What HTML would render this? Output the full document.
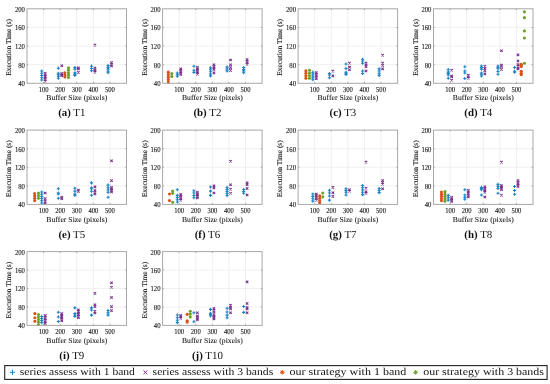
<!DOCTYPE html>
<html><head><meta charset="utf-8"><title>Execution time vs buffer size</title>
<style>
html,body{margin:0;padding:0;background:#fff;width:550px;height:384px;overflow:hidden}
svg{display:block;text-rendering:geometricPrecision}
text{font-family:"Liberation Serif","Times New Roman",serif;fill:#222}
.tl{font-size:7.6px;fill:#111;stroke:#111;stroke-width:0.1px}
.xl{font-size:7.6px;fill:#111;stroke:#111;stroke-width:0.08px}
.yl{font-size:7.4px;fill:#1a1a1a;stroke:#1a1a1a;stroke-width:0.12px}
.cap{font-size:10.9px;fill:#111}
.lg{font-size:10.6px;fill:#111}
.grid{stroke:#e6e6e6;stroke-width:0.6;fill:none}
.tick{stroke:#444;stroke-width:0.6;fill:none}
.box{fill:none;stroke:#a8a8a8;stroke-width:1.0}
.lbox{fill:none;stroke:#222;stroke-width:1.1}
.mb{stroke:#1782C4;stroke-width:1.05;fill:none}
.mp{stroke:#7E2F8E;stroke-width:1.05;fill:none}
.mo{fill:#DC5016}
.mg{fill:#6AA226}
</style></head>
<body>
<svg width="550" height="384" viewBox="0 0 550 384">
<path d="M43.58 8.8V83.3M60.17 8.8V83.3M76.75 8.8V83.3M93.33 8.8V83.3M109.92 8.8V83.3M27 64.67H126.5M27 46.05H126.5M27 27.43H126.5" class="grid"/>
<path d="M43.58 8.8v1.1M43.58 83.3v-1.1M60.17 8.8v1.1M60.17 83.3v-1.1M76.75 8.8v1.1M76.75 83.3v-1.1M93.33 8.8v1.1M93.33 83.3v-1.1M109.92 8.8v1.1M109.92 83.3v-1.1M27 64.67h1.1M126.5 64.67h-1.1M27 46.05h1.1M126.5 46.05h-1.1M27 27.43h1.1M126.5 27.43h-1.1" class="tick"/>
<path d="M40.18 80.04H43.28M41.73 78.49V81.59" class="mb"/>
<path d="M40.18 77.77H43.28M41.73 76.22V79.32" class="mb"/>
<path d="M40.18 75.5H43.28M41.73 73.95V77.05" class="mb"/>
<path d="M40.18 73.23H43.28M41.73 71.68V74.78" class="mb"/>
<path d="M40.18 70.96H43.28M41.73 69.41V72.51" class="mb"/>
<path d="M43.98 80L46.38 82.4M43.98 82.4L46.38 80" class="mp"/>
<path d="M43.98 78.42L46.38 80.82M43.98 80.82L46.38 78.42" class="mp"/>
<path d="M43.98 76.84L46.38 79.24M43.98 79.24L46.38 76.84" class="mp"/>
<path d="M43.98 75.26L46.38 77.66M43.98 77.66L46.38 75.26" class="mp"/>
<path d="M43.98 73.67L46.38 76.07M43.98 76.07L46.38 73.67" class="mp"/>
<path d="M43.98 72.09L46.38 74.49M43.98 74.49L46.38 72.09" class="mp"/>
<path d="M56.77 78.18H59.87M58.32 76.63V79.73" class="mb"/>
<path d="M56.77 76.32H59.87M58.32 74.77V77.87" class="mb"/>
<path d="M56.77 74.78H59.87M58.32 73.23V76.33" class="mb"/>
<path d="M56.77 73.2H59.87M58.32 71.65V74.75" class="mb"/>
<path d="M56.77 68.17H59.87M58.32 66.62V69.72" class="mb"/>
<path d="M60.57 74.51L62.97 76.91M60.57 76.91L62.97 74.51" class="mp"/>
<path d="M60.57 73.58L62.97 75.98M60.57 75.98L62.97 73.58" class="mp"/>
<path d="M60.57 72.32L62.97 74.72M60.57 74.72L62.97 72.32" class="mp"/>
<path d="M60.57 64.5L62.97 66.9M60.57 66.9L62.97 64.5" class="mp"/>
<circle cx="64.87" cy="77.01" r="1.55" class="mo"/>
<circle cx="64.87" cy="74.94" r="1.55" class="mo"/>
<circle cx="64.87" cy="72.87" r="1.55" class="mo"/>
<circle cx="68.47" cy="77.57" r="1.55" class="mg"/>
<circle cx="68.47" cy="75.15" r="1.55" class="mg"/>
<circle cx="68.47" cy="72.73" r="1.55" class="mg"/>
<circle cx="68.47" cy="70.31" r="1.55" class="mg"/>
<circle cx="68.47" cy="67.89" r="1.55" class="mg"/>
<path d="M73.35 75.38H76.45M74.9 73.83V76.93" class="mb"/>
<path d="M73.35 74.17H76.45M74.9 72.62V75.72" class="mb"/>
<path d="M73.35 72.87H76.45M74.9 71.32V74.42" class="mb"/>
<path d="M73.35 69.1H76.45M74.9 67.55V70.65" class="mb"/>
<path d="M73.35 67.56H76.45M74.9 66.01V69.11" class="mb"/>
<path d="M77.15 71.11L79.55 73.51M77.15 73.51L79.55 71.11" class="mp"/>
<path d="M77.15 67.67L79.55 70.07M77.15 70.07L79.55 67.67" class="mp"/>
<path d="M77.15 66.69L79.55 69.09M77.15 69.09L79.55 66.69" class="mp"/>
<path d="M89.93 70.77H93.03M91.48 69.22V72.32" class="mb"/>
<path d="M89.93 68.47H93.03M91.48 66.92V70.02" class="mb"/>
<path d="M89.93 66.17H93.03M91.48 64.62V67.72" class="mb"/>
<path d="M93.73 70.92L96.13 73.33M93.73 73.33L96.13 70.92" class="mp"/>
<path d="M93.73 69.61L96.13 72.01M93.73 72.01L96.13 69.61" class="mp"/>
<path d="M93.73 68.29L96.13 70.69M93.73 70.69L96.13 68.29" class="mp"/>
<path d="M93.73 66.97L96.13 69.37M93.73 69.37L96.13 66.97" class="mp"/>
<path d="M93.73 43.92L96.13 46.32M93.73 46.32L96.13 43.92" class="mp"/>
<path d="M106.52 72.78H109.62M108.07 71.23V74.33" class="mb"/>
<path d="M106.52 71.19H109.62M108.07 69.64V72.74" class="mb"/>
<path d="M106.52 69.1H109.62M108.07 67.55V70.65" class="mb"/>
<path d="M106.52 67.47H109.62M108.07 65.92V69.02" class="mb"/>
<path d="M106.52 65.61H109.62M108.07 64.06V67.16" class="mb"/>
<path d="M110.32 64.69L112.72 67.09M110.32 67.09L112.72 64.69" class="mp"/>
<path d="M110.32 63.03L112.72 65.43M110.32 65.43L112.72 63.03" class="mp"/>
<path d="M110.32 61.38L112.72 63.78M110.32 63.78L112.72 61.38" class="mp"/>
<rect x="27" y="8.8" width="99.5" height="74.5" class="box"/>
<text x="24.9" y="86.2" class="tl" text-anchor="end" textLength="6.7" lengthAdjust="spacingAndGlyphs">40</text>
<text x="24.9" y="67.58" class="tl" text-anchor="end" textLength="6.7" lengthAdjust="spacingAndGlyphs">80</text>
<text x="24.9" y="48.95" class="tl" text-anchor="end" textLength="10" lengthAdjust="spacingAndGlyphs">120</text>
<text x="24.9" y="30.32" class="tl" text-anchor="end" textLength="10" lengthAdjust="spacingAndGlyphs">160</text>
<text x="24.9" y="11.7" class="tl" text-anchor="end" textLength="10" lengthAdjust="spacingAndGlyphs">200</text>
<text x="43.58" y="91.5" class="tl" text-anchor="middle" textLength="9.9" lengthAdjust="spacingAndGlyphs">100</text>
<text x="60.17" y="91.5" class="tl" text-anchor="middle" textLength="9.9" lengthAdjust="spacingAndGlyphs">200</text>
<text x="76.75" y="91.5" class="tl" text-anchor="middle" textLength="9.9" lengthAdjust="spacingAndGlyphs">300</text>
<text x="93.33" y="91.5" class="tl" text-anchor="middle" textLength="9.9" lengthAdjust="spacingAndGlyphs">400</text>
<text x="109.92" y="91.5" class="tl" text-anchor="middle" textLength="9.9" lengthAdjust="spacingAndGlyphs">500</text>
<text x="76.8" y="100.3" class="xl" text-anchor="middle" textLength="60.9" lengthAdjust="spacing">Buffer Size (pixels)</text>
<text transform="translate(8.9 47.4) rotate(-90)" x="0" y="2.4" class="yl" text-anchor="middle" textLength="56.8" lengthAdjust="spacingAndGlyphs">Execution Time (s)</text>
<text x="71.8" y="116.3" class="cap" text-anchor="middle"><tspan font-weight="bold">(a)</tspan> T1</text>
<path d="M179.18 8.8V83.3M195.77 8.8V83.3M212.35 8.8V83.3M228.93 8.8V83.3M245.52 8.8V83.3M162.6 64.67H262.1M162.6 46.05H262.1M162.6 27.43H262.1" class="grid"/>
<path d="M179.18 8.8v1.1M179.18 83.3v-1.1M195.77 8.8v1.1M195.77 83.3v-1.1M212.35 8.8v1.1M212.35 83.3v-1.1M228.93 8.8v1.1M228.93 83.3v-1.1M245.52 8.8v1.1M245.52 83.3v-1.1M162.6 64.67h1.1M262.1 64.67h-1.1M162.6 46.05h1.1M262.1 46.05h-1.1M162.6 27.43h1.1M262.1 27.43h-1.1" class="tick"/>
<circle cx="168.28" cy="82.09" r="1.55" class="mo"/>
<circle cx="168.28" cy="79.61" r="1.55" class="mo"/>
<circle cx="168.28" cy="77.13" r="1.55" class="mo"/>
<circle cx="168.28" cy="74.65" r="1.55" class="mo"/>
<circle cx="168.28" cy="72.17" r="1.55" class="mo"/>
<circle cx="171.78" cy="76.41" r="1.55" class="mg"/>
<circle cx="171.78" cy="73.57" r="1.55" class="mg"/>
<path d="M175.78 76.32H178.88M177.33 74.77V77.87" class="mb"/>
<path d="M175.78 74.69H178.88M177.33 73.14V76.24" class="mb"/>
<path d="M175.78 73.06H178.88M177.33 71.51V74.61" class="mb"/>
<path d="M179.58 73.25L181.98 75.65M179.58 75.65L181.98 73.25" class="mp"/>
<path d="M179.58 71.86L181.98 74.26M179.58 74.26L181.98 71.86" class="mp"/>
<path d="M179.58 70.46L181.98 72.86M179.58 72.86L181.98 70.46" class="mp"/>
<path d="M179.58 69.06L181.98 71.46M179.58 71.46L181.98 69.06" class="mp"/>
<path d="M179.58 67.67L181.98 70.07M179.58 70.07L181.98 67.67" class="mp"/>
<path d="M192.37 72.36H195.47M193.92 70.81V73.91" class="mb"/>
<path d="M192.37 70.26H195.47M193.92 68.71V71.81" class="mb"/>
<path d="M192.37 66.26H195.47M193.92 64.71V67.81" class="mb"/>
<path d="M196.17 72.88L198.57 75.28M196.17 75.28L198.57 72.88" class="mp"/>
<path d="M196.17 71.54L198.57 73.94M196.17 73.94L198.57 71.54" class="mp"/>
<path d="M196.17 70.2L198.57 72.6M196.17 72.6L198.57 70.2" class="mp"/>
<path d="M196.17 68.86L198.57 71.26M196.17 71.26L198.57 68.86" class="mp"/>
<path d="M196.17 67.52L198.57 69.92M196.17 69.92L198.57 67.52" class="mp"/>
<path d="M196.17 66.18L198.57 68.58M196.17 68.58L198.57 66.18" class="mp"/>
<path d="M208.95 75.85H212.05M210.5 74.3V77.4" class="mb"/>
<path d="M208.95 73.99H212.05M210.5 72.44V75.54" class="mb"/>
<path d="M208.95 71.66H212.05M210.5 70.11V73.21" class="mb"/>
<path d="M208.95 69.8H212.05M210.5 68.25V71.35" class="mb"/>
<path d="M208.95 67.89H212.05M210.5 66.34V69.44" class="mb"/>
<path d="M212.75 71.62L215.15 74.02M212.75 74.02L215.15 71.62" class="mp"/>
<path d="M212.75 68.27L215.15 70.67M212.75 70.67L215.15 68.27" class="mp"/>
<path d="M212.75 66.7L215.15 69.1M212.75 69.1L215.15 66.7" class="mp"/>
<path d="M212.75 65.14L215.15 67.54M212.75 67.54L215.15 65.14" class="mp"/>
<path d="M212.75 63.57L215.15 65.97M212.75 65.97L215.15 63.57" class="mp"/>
<path d="M225.53 70.87H228.63M227.08 69.32V72.42" class="mb"/>
<path d="M225.53 68.98H228.63M227.08 67.43V70.53" class="mb"/>
<path d="M225.53 67.1H228.63M227.08 65.55V68.65" class="mb"/>
<path d="M229.33 69.2L231.73 71.6M229.33 71.6L231.73 69.2" class="mp"/>
<path d="M229.33 66.36L231.73 68.76M229.33 68.76L231.73 66.36" class="mp"/>
<path d="M229.33 63.57L231.73 65.97M229.33 65.97L231.73 63.57" class="mp"/>
<path d="M229.33 58.82L231.73 61.22M229.33 61.22L231.73 58.82" class="mp"/>
<path d="M242.12 72.82H245.22M243.67 71.27V74.37" class="mb"/>
<path d="M242.12 70.87H245.22M243.67 69.32V72.42" class="mb"/>
<path d="M242.12 69.47H245.22M243.67 67.92V71.02" class="mb"/>
<path d="M242.12 67.56H245.22M243.67 66.01V69.11" class="mb"/>
<path d="M245.92 63.06L248.32 65.46M245.92 65.46L248.32 63.06" class="mp"/>
<path d="M245.92 61.49L248.32 63.89M245.92 63.89L248.32 61.49" class="mp"/>
<path d="M245.92 59.92L248.32 62.32M245.92 62.32L248.32 59.92" class="mp"/>
<path d="M245.92 58.35L248.32 60.75M245.92 60.75L248.32 58.35" class="mp"/>
<rect x="162.6" y="8.8" width="99.5" height="74.5" class="box"/>
<text x="160.5" y="86.2" class="tl" text-anchor="end" textLength="6.7" lengthAdjust="spacingAndGlyphs">40</text>
<text x="160.5" y="67.58" class="tl" text-anchor="end" textLength="6.7" lengthAdjust="spacingAndGlyphs">80</text>
<text x="160.5" y="48.95" class="tl" text-anchor="end" textLength="10" lengthAdjust="spacingAndGlyphs">120</text>
<text x="160.5" y="30.32" class="tl" text-anchor="end" textLength="10" lengthAdjust="spacingAndGlyphs">160</text>
<text x="160.5" y="11.7" class="tl" text-anchor="end" textLength="10" lengthAdjust="spacingAndGlyphs">200</text>
<text x="179.18" y="91.5" class="tl" text-anchor="middle" textLength="9.9" lengthAdjust="spacingAndGlyphs">100</text>
<text x="195.77" y="91.5" class="tl" text-anchor="middle" textLength="9.9" lengthAdjust="spacingAndGlyphs">200</text>
<text x="212.35" y="91.5" class="tl" text-anchor="middle" textLength="9.9" lengthAdjust="spacingAndGlyphs">300</text>
<text x="228.93" y="91.5" class="tl" text-anchor="middle" textLength="9.9" lengthAdjust="spacingAndGlyphs">400</text>
<text x="245.52" y="91.5" class="tl" text-anchor="middle" textLength="9.9" lengthAdjust="spacingAndGlyphs">500</text>
<text x="212.4" y="100.3" class="xl" text-anchor="middle" textLength="60.9" lengthAdjust="spacing">Buffer Size (pixels)</text>
<text transform="translate(144.5 47.4) rotate(-90)" x="0" y="2.4" class="yl" text-anchor="middle" textLength="56.8" lengthAdjust="spacingAndGlyphs">Execution Time (s)</text>
<text x="207.4" y="116.3" class="cap" text-anchor="middle"><tspan font-weight="bold">(b)</tspan> T2</text>
<path d="M314.68 8.8V83.3M331.27 8.8V83.3M347.85 8.8V83.3M364.43 8.8V83.3M381.02 8.8V83.3M298.1 64.67H397.6M298.1 46.05H397.6M298.1 27.43H397.6" class="grid"/>
<path d="M314.68 8.8v1.1M314.68 83.3v-1.1M331.27 8.8v1.1M331.27 83.3v-1.1M347.85 8.8v1.1M347.85 83.3v-1.1M364.43 8.8v1.1M364.43 83.3v-1.1M381.02 8.8v1.1M381.02 83.3v-1.1M298.1 64.67h1.1M397.6 64.67h-1.1M298.1 46.05h1.1M397.6 46.05h-1.1M298.1 27.43h1.1M397.6 27.43h-1.1" class="tick"/>
<circle cx="305.88" cy="78.27" r="1.55" class="mo"/>
<circle cx="305.88" cy="75.76" r="1.55" class="mo"/>
<circle cx="305.88" cy="73.24" r="1.55" class="mo"/>
<circle cx="305.88" cy="70.73" r="1.55" class="mo"/>
<circle cx="309.48" cy="78.27" r="1.55" class="mg"/>
<circle cx="309.48" cy="75.6" r="1.55" class="mg"/>
<circle cx="309.48" cy="72.93" r="1.55" class="mg"/>
<circle cx="309.48" cy="70.26" r="1.55" class="mg"/>
<path d="M311.28 79.71H314.38M312.83 78.16V81.26" class="mb"/>
<path d="M311.28 77.83H314.38M312.83 76.28V79.38" class="mb"/>
<path d="M311.28 75.94H314.38M312.83 74.39V77.49" class="mb"/>
<path d="M311.28 74.06H314.38M312.83 72.51V75.61" class="mb"/>
<path d="M311.28 72.17H314.38M312.83 70.62V73.72" class="mb"/>
<path d="M315.08 77.58L317.48 79.98M315.08 79.98L317.48 77.58" class="mp"/>
<path d="M315.08 76.04L317.48 78.44M315.08 78.44L317.48 76.04" class="mp"/>
<path d="M315.08 74.49L317.48 76.89M315.08 76.89L317.48 74.49" class="mp"/>
<path d="M315.08 72.94L317.48 75.34M315.08 75.34L317.48 72.94" class="mp"/>
<path d="M315.08 71.39L317.48 73.79M315.08 73.79L317.48 71.39" class="mp"/>
<path d="M327.87 77.71H330.97M329.42 76.16V79.26" class="mb"/>
<path d="M327.87 74.92H330.97M329.42 73.37V76.47" class="mb"/>
<path d="M327.87 73.57H330.97M329.42 72.02V75.12" class="mb"/>
<path d="M331.67 74.7L334.07 77.1M331.67 77.1L334.07 74.7" class="mp"/>
<path d="M331.67 69.99L334.07 72.39M331.67 72.39L334.07 69.99" class="mp"/>
<path d="M344.45 74.45H347.55M346 72.9V76" class="mb"/>
<path d="M344.45 73.29H347.55M346 71.74V74.84" class="mb"/>
<path d="M344.45 72.17H347.55M346 70.62V73.72" class="mb"/>
<path d="M344.45 68.4H347.55M346 66.85V69.95" class="mb"/>
<path d="M344.45 64.07H347.55M346 62.52V65.62" class="mb"/>
<path d="M348.25 68.6L350.65 71M348.25 71L350.65 68.6" class="mp"/>
<path d="M348.25 65.8L350.65 68.2M348.25 68.2L350.65 65.8" class="mp"/>
<path d="M348.25 61.94L350.65 64.34M348.25 64.34L350.65 61.94" class="mp"/>
<path d="M361.03 73.52H364.13M362.58 71.97V75.07" class="mb"/>
<path d="M361.03 71.01H364.13M362.58 69.46V72.56" class="mb"/>
<path d="M361.03 63.19H364.13M362.58 61.64V64.73" class="mb"/>
<path d="M361.03 60.95H364.13M362.58 59.4V62.5" class="mb"/>
<path d="M361.03 59.27H364.13M362.58 57.72V60.82" class="mb"/>
<path d="M364.83 69.81L367.23 72.21M364.83 72.21L367.23 69.81" class="mp"/>
<path d="M364.83 65.48L367.23 67.88M364.83 67.88L367.23 65.48" class="mp"/>
<path d="M364.83 63.73L367.23 66.13M364.83 66.13L367.23 63.73" class="mp"/>
<path d="M364.83 61.98L367.23 64.39M364.83 64.39L367.23 61.98" class="mp"/>
<path d="M377.62 75.38H380.72M379.17 73.83V76.93" class="mb"/>
<path d="M377.62 73.21H380.72M379.17 71.66V74.76" class="mb"/>
<path d="M377.62 71.04H380.72M379.17 69.49V72.59" class="mb"/>
<path d="M377.62 68.87H380.72M379.17 67.32V70.42" class="mb"/>
<path d="M381.42 67.67L383.82 70.07M381.42 70.07L383.82 67.67" class="mp"/>
<path d="M381.42 64.17L383.82 66.57M381.42 66.57L383.82 64.17" class="mp"/>
<path d="M381.42 61.98L383.82 64.39M381.42 64.39L383.82 61.98" class="mp"/>
<path d="M381.42 54.07L383.82 56.47M381.42 56.47L383.82 54.07" class="mp"/>
<rect x="298.1" y="8.8" width="99.5" height="74.5" class="box"/>
<text x="296" y="86.2" class="tl" text-anchor="end" textLength="6.7" lengthAdjust="spacingAndGlyphs">40</text>
<text x="296" y="67.58" class="tl" text-anchor="end" textLength="6.7" lengthAdjust="spacingAndGlyphs">80</text>
<text x="296" y="48.95" class="tl" text-anchor="end" textLength="10" lengthAdjust="spacingAndGlyphs">120</text>
<text x="296" y="30.32" class="tl" text-anchor="end" textLength="10" lengthAdjust="spacingAndGlyphs">160</text>
<text x="296" y="11.7" class="tl" text-anchor="end" textLength="10" lengthAdjust="spacingAndGlyphs">200</text>
<text x="314.68" y="91.5" class="tl" text-anchor="middle" textLength="9.9" lengthAdjust="spacingAndGlyphs">100</text>
<text x="331.27" y="91.5" class="tl" text-anchor="middle" textLength="9.9" lengthAdjust="spacingAndGlyphs">200</text>
<text x="347.85" y="91.5" class="tl" text-anchor="middle" textLength="9.9" lengthAdjust="spacingAndGlyphs">300</text>
<text x="364.43" y="91.5" class="tl" text-anchor="middle" textLength="9.9" lengthAdjust="spacingAndGlyphs">400</text>
<text x="381.02" y="91.5" class="tl" text-anchor="middle" textLength="9.9" lengthAdjust="spacingAndGlyphs">500</text>
<text x="347.9" y="100.3" class="xl" text-anchor="middle" textLength="60.9" lengthAdjust="spacing">Buffer Size (pixels)</text>
<text transform="translate(280 47.4) rotate(-90)" x="0" y="2.4" class="yl" text-anchor="middle" textLength="56.8" lengthAdjust="spacingAndGlyphs">Execution Time (s)</text>
<text x="342.9" y="116.3" class="cap" text-anchor="middle"><tspan font-weight="bold">(c)</tspan> T3</text>
<path d="M450.08 8.8V83.3M466.67 8.8V83.3M483.25 8.8V83.3M499.83 8.8V83.3M516.42 8.8V83.3M433.5 64.67H533M433.5 46.05H533M433.5 27.43H533" class="grid"/>
<path d="M450.08 8.8v1.1M450.08 83.3v-1.1M466.67 8.8v1.1M466.67 83.3v-1.1M483.25 8.8v1.1M483.25 83.3v-1.1M499.83 8.8v1.1M499.83 83.3v-1.1M516.42 8.8v1.1M516.42 83.3v-1.1M433.5 64.67h1.1M533 64.67h-1.1M433.5 46.05h1.1M533 46.05h-1.1M433.5 27.43h1.1M533 27.43h-1.1" class="tick"/>
<path d="M446.68 78.27H449.78M448.23 76.72V79.82" class="mb"/>
<path d="M446.68 75.01H449.78M448.23 73.46V76.56" class="mb"/>
<path d="M446.68 73.48H449.78M448.23 71.93V75.03" class="mb"/>
<path d="M446.68 72.12H449.78M448.23 70.58V73.67" class="mb"/>
<path d="M446.68 69.66H449.78M448.23 68.11V71.21" class="mb"/>
<path d="M450.48 78.98L452.88 81.38M450.48 81.38L452.88 78.98" class="mp"/>
<path d="M450.48 75.58L452.88 77.98M450.48 77.98L452.88 75.58" class="mp"/>
<path d="M450.48 74.79L452.88 77.19M450.48 77.19L452.88 74.79" class="mp"/>
<path d="M450.48 69.06L452.88 71.46M450.48 71.46L452.88 69.06" class="mp"/>
<path d="M463.27 78.5H466.37M464.82 76.95V80.05" class="mb"/>
<path d="M463.27 73.06H466.37M464.82 71.51V74.61" class="mb"/>
<path d="M463.27 71.01H466.37M464.82 69.46V72.56" class="mb"/>
<path d="M463.27 66.77H466.37M464.82 65.22V68.32" class="mb"/>
<path d="M467.07 76.88L469.47 79.28M467.07 79.28L469.47 76.88" class="mp"/>
<path d="M467.07 75.58L469.47 77.98M467.07 77.98L469.47 75.58" class="mp"/>
<path d="M467.07 73.91L469.47 76.31M467.07 76.31L469.47 73.91" class="mp"/>
<path d="M479.85 75.99H482.95M481.4 74.44V77.54" class="mb"/>
<path d="M479.85 74.27H482.95M481.4 72.72V75.82" class="mb"/>
<path d="M479.85 73.06H482.95M481.4 71.51V74.61" class="mb"/>
<path d="M479.85 69.1H482.95M481.4 67.55V70.65" class="mb"/>
<path d="M479.85 67.56H482.95M481.4 66.01V69.11" class="mb"/>
<path d="M479.85 65.98H482.95M481.4 64.43V67.53" class="mb"/>
<path d="M483.65 72.69L486.05 75.09M483.65 75.09L486.05 72.69" class="mp"/>
<path d="M483.65 69.39L486.05 71.79M483.65 71.79L486.05 69.39" class="mp"/>
<path d="M483.65 67.29L486.05 69.69M483.65 69.69L486.05 67.29" class="mp"/>
<path d="M483.65 65.2L486.05 67.6M483.65 67.6L486.05 65.2" class="mp"/>
<path d="M496.43 74.27H499.53M497.98 72.72V75.82" class="mb"/>
<path d="M496.43 71.47H499.53M497.98 69.92V73.02" class="mb"/>
<path d="M496.43 68.68H499.53M497.98 67.13V70.23" class="mb"/>
<path d="M496.43 67.47H499.53M497.98 65.92V69.02" class="mb"/>
<path d="M496.43 66.07H499.53M497.98 64.52V67.62" class="mb"/>
<path d="M500.23 68.13L502.63 70.53M500.23 70.53L502.63 68.13" class="mp"/>
<path d="M500.23 65.34L502.63 67.74M500.23 67.74L502.63 65.34" class="mp"/>
<path d="M500.23 63.94L502.63 66.34M500.23 66.34L502.63 63.94" class="mp"/>
<path d="M500.23 49.51L502.63 51.91M500.23 51.91L502.63 49.51" class="mp"/>
<path d="M513.02 72.17H516.12M514.57 70.62V73.72" class="mb"/>
<path d="M513.02 71.29H516.12M514.57 69.74V72.84" class="mb"/>
<path d="M513.02 67.56H516.12M514.57 66.01V69.11" class="mb"/>
<path d="M516.82 67.76L519.22 70.16M516.82 70.16L519.22 67.76" class="mp"/>
<path d="M516.82 66.78L519.22 69.18M516.82 69.18L519.22 66.78" class="mp"/>
<path d="M516.82 64.87L519.22 67.27M516.82 67.27L519.22 64.87" class="mp"/>
<path d="M516.82 63.47L519.22 65.88M516.82 65.88L519.22 63.47" class="mp"/>
<path d="M516.82 59.75L519.22 62.15M516.82 62.15L519.22 59.75" class="mp"/>
<path d="M516.82 53.7L519.22 56.1M516.82 56.1L519.22 53.7" class="mp"/>
<circle cx="521.22" cy="74.59" r="1.55" class="mo"/>
<circle cx="521.22" cy="73.2" r="1.55" class="mo"/>
<circle cx="521.22" cy="71.29" r="1.55" class="mo"/>
<circle cx="521.22" cy="66.54" r="1.55" class="mo"/>
<circle cx="521.22" cy="65.37" r="1.55" class="mo"/>
<circle cx="521.22" cy="64.21" r="1.55" class="mo"/>
<circle cx="524.42" cy="63.28" r="1.55" class="mg"/>
<circle cx="524.42" cy="37.95" r="1.55" class="mg"/>
<circle cx="524.42" cy="30.92" r="1.55" class="mg"/>
<circle cx="524.42" cy="17.65" r="1.55" class="mg"/>
<circle cx="524.42" cy="11.83" r="1.55" class="mg"/>
<rect x="433.5" y="8.8" width="99.5" height="74.5" class="box"/>
<text x="431.4" y="86.2" class="tl" text-anchor="end" textLength="6.7" lengthAdjust="spacingAndGlyphs">40</text>
<text x="431.4" y="67.58" class="tl" text-anchor="end" textLength="6.7" lengthAdjust="spacingAndGlyphs">80</text>
<text x="431.4" y="48.95" class="tl" text-anchor="end" textLength="10" lengthAdjust="spacingAndGlyphs">120</text>
<text x="431.4" y="30.32" class="tl" text-anchor="end" textLength="10" lengthAdjust="spacingAndGlyphs">160</text>
<text x="431.4" y="11.7" class="tl" text-anchor="end" textLength="10" lengthAdjust="spacingAndGlyphs">200</text>
<text x="450.08" y="91.5" class="tl" text-anchor="middle" textLength="9.9" lengthAdjust="spacingAndGlyphs">100</text>
<text x="466.67" y="91.5" class="tl" text-anchor="middle" textLength="9.9" lengthAdjust="spacingAndGlyphs">200</text>
<text x="483.25" y="91.5" class="tl" text-anchor="middle" textLength="9.9" lengthAdjust="spacingAndGlyphs">300</text>
<text x="499.83" y="91.5" class="tl" text-anchor="middle" textLength="9.9" lengthAdjust="spacingAndGlyphs">400</text>
<text x="516.42" y="91.5" class="tl" text-anchor="middle" textLength="9.9" lengthAdjust="spacingAndGlyphs">500</text>
<text x="483.3" y="100.3" class="xl" text-anchor="middle" textLength="60.9" lengthAdjust="spacing">Buffer Size (pixels)</text>
<text transform="translate(415.4 47.4) rotate(-90)" x="0" y="2.4" class="yl" text-anchor="middle" textLength="56.8" lengthAdjust="spacingAndGlyphs">Execution Time (s)</text>
<text x="478.3" y="116.3" class="cap" text-anchor="middle"><tspan font-weight="bold">(d)</tspan> T4</text>
<path d="M43.58 130.1V204.4M60.17 130.1V204.4M76.75 130.1V204.4M93.33 130.1V204.4M109.92 130.1V204.4M27 185.82H126.5M27 167.25H126.5M27 148.67H126.5" class="grid"/>
<path d="M43.58 130.1v1.1M43.58 204.4v-1.1M60.17 130.1v1.1M60.17 204.4v-1.1M76.75 130.1v1.1M76.75 204.4v-1.1M93.33 130.1v1.1M93.33 204.4v-1.1M109.92 130.1v1.1M109.92 204.4v-1.1M27 185.82h1.1M126.5 185.82h-1.1M27 167.25h1.1M126.5 167.25h-1.1M27 148.67h1.1M126.5 148.67h-1.1" class="tick"/>
<circle cx="34.68" cy="200.59" r="1.55" class="mo"/>
<circle cx="34.68" cy="198.24" r="1.55" class="mo"/>
<circle cx="34.68" cy="195.89" r="1.55" class="mo"/>
<circle cx="34.68" cy="193.53" r="1.55" class="mo"/>
<circle cx="38.48" cy="198.22" r="1.55" class="mg"/>
<circle cx="38.48" cy="195.62" r="1.55" class="mg"/>
<circle cx="38.48" cy="193.02" r="1.55" class="mg"/>
<path d="M40.18 202.91H43.28M41.73 201.36V204.46" class="mb"/>
<path d="M40.18 200.75H43.28M41.73 199.2V202.3" class="mb"/>
<path d="M40.18 198.59H43.28M41.73 197.04V200.14" class="mb"/>
<path d="M40.18 196.42H43.28M41.73 194.87V197.97" class="mb"/>
<path d="M40.18 194.26H43.28M41.73 192.71V195.81" class="mb"/>
<path d="M40.18 192.09H43.28M41.73 190.54V193.64" class="mb"/>
<path d="M43.98 201.71L46.38 204.11M43.98 204.11L46.38 201.71" class="mp"/>
<path d="M43.98 199.95L46.38 202.35M43.98 202.35L46.38 199.95" class="mp"/>
<path d="M43.98 197.49L46.38 199.89M43.98 199.89L46.38 197.49" class="mp"/>
<path d="M43.98 191.82L46.38 194.22M43.98 194.22L46.38 191.82" class="mp"/>
<path d="M56.77 198.22H59.87M58.32 196.67V199.77" class="mb"/>
<path d="M56.77 194H59.87M58.32 192.45V195.55" class="mb"/>
<path d="M56.77 193.02H59.87M58.32 191.47V194.57" class="mb"/>
<path d="M56.77 188.8H59.87M58.32 187.25V190.35" class="mb"/>
<path d="M60.57 197.49L62.97 199.89M60.57 199.89L62.97 197.49" class="mp"/>
<path d="M60.57 196.23L62.97 198.63M60.57 198.63L62.97 196.23" class="mp"/>
<path d="M73.35 195.39H76.45M74.9 193.84V196.94" class="mb"/>
<path d="M73.35 194H76.45M74.9 192.45V195.55" class="mb"/>
<path d="M73.35 191.12H76.45M74.9 189.57V192.67" class="mb"/>
<path d="M73.35 188.29H76.45M74.9 186.74V189.84" class="mb"/>
<path d="M77.15 190.2L79.55 192.6M77.15 192.6L79.55 190.2" class="mp"/>
<path d="M77.15 188.85L79.55 191.25M77.15 191.25L79.55 188.85" class="mp"/>
<path d="M89.93 195.3H93.03M91.48 193.75V196.85" class="mb"/>
<path d="M89.93 191.21H93.03M91.48 189.66V192.76" class="mb"/>
<path d="M89.93 188.8H93.03M91.48 187.25V190.35" class="mb"/>
<path d="M89.93 187.82H93.03M91.48 186.27V189.37" class="mb"/>
<path d="M89.93 182.85H93.03M91.48 181.3V184.4" class="mb"/>
<path d="M93.73 192.71L96.13 195.11M93.73 195.11L96.13 192.71" class="mp"/>
<path d="M93.73 191.01L96.13 193.41M93.73 193.41L96.13 191.01" class="mp"/>
<path d="M93.73 189.32L96.13 191.72M93.73 191.72L96.13 189.32" class="mp"/>
<path d="M93.73 185.74L96.13 188.14M93.73 188.14L96.13 185.74" class="mp"/>
<path d="M106.52 197.3H109.62M108.07 195.75V198.85" class="mb"/>
<path d="M106.52 192.33H109.62M108.07 190.78V193.88" class="mb"/>
<path d="M106.52 189.91H109.62M108.07 188.36V191.46" class="mb"/>
<path d="M106.52 187.82H109.62M108.07 186.27V189.37" class="mb"/>
<path d="M106.52 185.13H109.62M108.07 183.58V186.68" class="mb"/>
<path d="M110.32 190.71L112.72 193.11M110.32 193.11L112.72 190.71" class="mp"/>
<path d="M110.32 189.21L112.72 191.61M110.32 191.61L112.72 189.21" class="mp"/>
<path d="M110.32 187.71L112.72 190.11M110.32 190.11L112.72 187.71" class="mp"/>
<path d="M110.32 186.2L112.72 188.6M110.32 188.6L112.72 186.2" class="mp"/>
<path d="M110.32 179.42L112.72 181.82M110.32 181.82L112.72 179.42" class="mp"/>
<path d="M110.32 159.55L112.72 161.95M110.32 161.95L112.72 159.55" class="mp"/>
<rect x="27" y="130.1" width="99.5" height="74.3" class="box"/>
<text x="24.9" y="207.3" class="tl" text-anchor="end" textLength="6.7" lengthAdjust="spacingAndGlyphs">40</text>
<text x="24.9" y="188.72" class="tl" text-anchor="end" textLength="6.7" lengthAdjust="spacingAndGlyphs">80</text>
<text x="24.9" y="170.15" class="tl" text-anchor="end" textLength="10" lengthAdjust="spacingAndGlyphs">120</text>
<text x="24.9" y="151.57" class="tl" text-anchor="end" textLength="10" lengthAdjust="spacingAndGlyphs">160</text>
<text x="24.9" y="133" class="tl" text-anchor="end" textLength="10" lengthAdjust="spacingAndGlyphs">200</text>
<text x="43.58" y="212.8" class="tl" text-anchor="middle" textLength="9.9" lengthAdjust="spacingAndGlyphs">100</text>
<text x="60.17" y="212.8" class="tl" text-anchor="middle" textLength="9.9" lengthAdjust="spacingAndGlyphs">200</text>
<text x="76.75" y="212.8" class="tl" text-anchor="middle" textLength="9.9" lengthAdjust="spacingAndGlyphs">300</text>
<text x="93.33" y="212.8" class="tl" text-anchor="middle" textLength="9.9" lengthAdjust="spacingAndGlyphs">400</text>
<text x="109.92" y="212.8" class="tl" text-anchor="middle" textLength="9.9" lengthAdjust="spacingAndGlyphs">500</text>
<text x="76.8" y="221.6" class="xl" text-anchor="middle" textLength="60.9" lengthAdjust="spacing">Buffer Size (pixels)</text>
<text transform="translate(8.9 168.7) rotate(-90)" x="0" y="2.4" class="yl" text-anchor="middle" textLength="56.8" lengthAdjust="spacingAndGlyphs">Execution Time (s)</text>
<text x="71.8" y="237.6" class="cap" text-anchor="middle"><tspan font-weight="bold">(e)</tspan> T5</text>
<path d="M179.18 130.1V204.4M195.77 130.1V204.4M212.35 130.1V204.4M228.93 130.1V204.4M245.52 130.1V204.4M162.6 185.82H262.1M162.6 167.25H262.1M162.6 148.67H262.1" class="grid"/>
<path d="M179.18 130.1v1.1M179.18 204.4v-1.1M195.77 130.1v1.1M195.77 204.4v-1.1M212.35 130.1v1.1M212.35 204.4v-1.1M228.93 130.1v1.1M228.93 204.4v-1.1M245.52 130.1v1.1M245.52 204.4v-1.1M162.6 185.82h1.1M262.1 185.82h-1.1M162.6 167.25h1.1M262.1 167.25h-1.1M162.6 148.67h1.1M262.1 148.67h-1.1" class="tick"/>
<circle cx="169.48" cy="200.59" r="1.55" class="mo"/>
<circle cx="169.48" cy="194" r="1.55" class="mo"/>
<circle cx="172.68" cy="202.31" r="1.55" class="mg"/>
<circle cx="172.68" cy="193.25" r="1.55" class="mg"/>
<circle cx="172.68" cy="191.12" r="1.55" class="mg"/>
<path d="M175.78 201.99H178.88M177.33 200.44V203.54" class="mb"/>
<path d="M175.78 199.79H178.88M177.33 198.24V201.34" class="mb"/>
<path d="M175.78 197.59H178.88M177.33 196.04V199.14" class="mb"/>
<path d="M175.78 195.39H178.88M177.33 193.84V196.94" class="mb"/>
<path d="M175.78 189.73H178.88M177.33 188.18V191.28" class="mb"/>
<path d="M179.58 198.93L181.98 201.33M179.58 201.33L181.98 198.93" class="mp"/>
<path d="M179.58 197.51L181.98 199.91M179.58 199.91L181.98 197.51" class="mp"/>
<path d="M179.58 196.1L181.98 198.5M179.58 198.5L181.98 196.1" class="mp"/>
<path d="M179.58 194.68L181.98 197.08M179.58 197.08L181.98 194.68" class="mp"/>
<path d="M179.58 193.26L181.98 195.66M179.58 195.66L181.98 193.26" class="mp"/>
<path d="M192.37 197.81H195.47M193.92 196.26V199.36" class="mb"/>
<path d="M192.37 195.44H195.47M193.92 193.89V196.99" class="mb"/>
<path d="M192.37 193.07H195.47M193.92 191.52V194.62" class="mb"/>
<path d="M192.37 190.7H195.47M193.92 189.15V192.25" class="mb"/>
<path d="M196.17 196.61L198.57 199.01M196.17 199.01L198.57 196.61" class="mp"/>
<path d="M196.17 195.21L198.57 197.61M196.17 197.61L198.57 195.21" class="mp"/>
<path d="M196.17 193.82L198.57 196.22M196.17 196.22L198.57 193.82" class="mp"/>
<path d="M196.17 192.43L198.57 194.83M196.17 194.83L198.57 192.43" class="mp"/>
<path d="M196.17 191.03L198.57 193.43M196.17 193.43L198.57 191.03" class="mp"/>
<path d="M208.95 195.39H212.05M210.5 193.84V196.94" class="mb"/>
<path d="M208.95 191.12H212.05M210.5 189.57V192.67" class="mb"/>
<path d="M208.95 186.94H212.05M210.5 185.39V188.49" class="mb"/>
<path d="M212.75 191.82L215.15 194.22M212.75 194.22L215.15 191.82" class="mp"/>
<path d="M212.75 186.62L215.15 189.02M212.75 189.02L215.15 186.62" class="mp"/>
<path d="M212.75 184.72L215.15 187.12M212.75 187.12L215.15 184.72" class="mp"/>
<path d="M225.53 195.58H228.63M227.08 194.03V197.13" class="mb"/>
<path d="M225.53 193.53H228.63M227.08 191.98V195.08" class="mb"/>
<path d="M225.53 191.49H228.63M227.08 189.94V193.04" class="mb"/>
<path d="M225.53 189.45H228.63M227.08 187.9V191" class="mb"/>
<path d="M225.53 187.4H228.63M227.08 185.85V188.95" class="mb"/>
<path d="M229.33 192.1L231.73 194.5M229.33 194.5L231.73 192.1" class="mp"/>
<path d="M229.33 188.01L231.73 190.41M229.33 190.41L231.73 188.01" class="mp"/>
<path d="M229.33 183.56L231.73 185.96M229.33 185.96L231.73 183.56" class="mp"/>
<path d="M229.33 160.01L231.73 162.41M229.33 162.41L231.73 160.01" class="mp"/>
<path d="M242.12 193.3H245.22M243.67 191.75V194.85" class="mb"/>
<path d="M242.12 191.44H245.22M243.67 189.89V192.99" class="mb"/>
<path d="M242.12 189.59H245.22M243.67 188.04V191.14" class="mb"/>
<path d="M245.92 193.82L248.32 196.22M245.92 196.22L248.32 193.82" class="mp"/>
<path d="M245.92 187.32L248.32 189.72M245.92 189.72L248.32 187.32" class="mp"/>
<path d="M245.92 183.56L248.32 185.96M245.92 185.96L248.32 183.56" class="mp"/>
<path d="M245.92 181.65L248.32 184.05M245.92 184.05L248.32 181.65" class="mp"/>
<rect x="162.6" y="130.1" width="99.5" height="74.3" class="box"/>
<text x="160.5" y="207.3" class="tl" text-anchor="end" textLength="6.7" lengthAdjust="spacingAndGlyphs">40</text>
<text x="160.5" y="188.72" class="tl" text-anchor="end" textLength="6.7" lengthAdjust="spacingAndGlyphs">80</text>
<text x="160.5" y="170.15" class="tl" text-anchor="end" textLength="10" lengthAdjust="spacingAndGlyphs">120</text>
<text x="160.5" y="151.57" class="tl" text-anchor="end" textLength="10" lengthAdjust="spacingAndGlyphs">160</text>
<text x="160.5" y="133" class="tl" text-anchor="end" textLength="10" lengthAdjust="spacingAndGlyphs">200</text>
<text x="179.18" y="212.8" class="tl" text-anchor="middle" textLength="9.9" lengthAdjust="spacingAndGlyphs">100</text>
<text x="195.77" y="212.8" class="tl" text-anchor="middle" textLength="9.9" lengthAdjust="spacingAndGlyphs">200</text>
<text x="212.35" y="212.8" class="tl" text-anchor="middle" textLength="9.9" lengthAdjust="spacingAndGlyphs">300</text>
<text x="228.93" y="212.8" class="tl" text-anchor="middle" textLength="9.9" lengthAdjust="spacingAndGlyphs">400</text>
<text x="245.52" y="212.8" class="tl" text-anchor="middle" textLength="9.9" lengthAdjust="spacingAndGlyphs">500</text>
<text x="212.4" y="221.6" class="xl" text-anchor="middle" textLength="60.9" lengthAdjust="spacing">Buffer Size (pixels)</text>
<text transform="translate(144.5 168.7) rotate(-90)" x="0" y="2.4" class="yl" text-anchor="middle" textLength="56.8" lengthAdjust="spacingAndGlyphs">Execution Time (s)</text>
<text x="207.4" y="237.6" class="cap" text-anchor="middle"><tspan font-weight="bold">(f)</tspan> T6</text>
<path d="M314.68 130.1V204.4M331.27 130.1V204.4M347.85 130.1V204.4M364.43 130.1V204.4M381.02 130.1V204.4M298.1 185.82H397.6M298.1 167.25H397.6M298.1 148.67H397.6" class="grid"/>
<path d="M314.68 130.1v1.1M314.68 204.4v-1.1M331.27 130.1v1.1M331.27 204.4v-1.1M347.85 130.1v1.1M347.85 204.4v-1.1M364.43 130.1v1.1M364.43 204.4v-1.1M381.02 130.1v1.1M381.02 204.4v-1.1M298.1 185.82h1.1M397.6 185.82h-1.1M298.1 167.25h1.1M397.6 167.25h-1.1M298.1 148.67h1.1M397.6 148.67h-1.1" class="tick"/>
<path d="M311.28 201.1H314.38M312.83 199.55V202.65" class="mb"/>
<path d="M311.28 198.73H314.38M312.83 197.18V200.28" class="mb"/>
<path d="M311.28 196.37H314.38M312.83 194.82V197.92" class="mb"/>
<path d="M311.28 194H314.38M312.83 192.45V195.55" class="mb"/>
<path d="M315.08 198.93L317.48 201.33M315.08 201.33L317.48 198.93" class="mp"/>
<path d="M315.08 197.4L317.48 199.8M315.08 199.8L317.48 197.4" class="mp"/>
<path d="M315.08 195.86L317.48 198.26M315.08 198.26L317.48 195.86" class="mp"/>
<path d="M315.08 194.33L317.48 196.73M315.08 196.73L317.48 194.33" class="mp"/>
<path d="M315.08 192.8L317.48 195.2M315.08 195.2L317.48 192.8" class="mp"/>
<circle cx="319.68" cy="202.91" r="1.55" class="mo"/>
<circle cx="319.68" cy="200.58" r="1.55" class="mo"/>
<circle cx="319.68" cy="198.24" r="1.55" class="mo"/>
<circle cx="319.68" cy="195.9" r="1.55" class="mo"/>
<circle cx="322.78" cy="196.83" r="1.55" class="mg"/>
<circle cx="322.78" cy="193.02" r="1.55" class="mg"/>
<path d="M327.87 200.13H330.97M329.42 198.58V201.68" class="mb"/>
<path d="M327.87 196.04H330.97M329.42 194.49V197.59" class="mb"/>
<path d="M327.87 193.02H330.97M329.42 191.47V194.57" class="mb"/>
<path d="M327.87 190.33H330.97M329.42 188.78V191.88" class="mb"/>
<path d="M331.67 195.21L334.07 197.61M331.67 197.61L334.07 195.21" class="mp"/>
<path d="M331.67 191.5L334.07 193.9M331.67 193.9L334.07 191.5" class="mp"/>
<path d="M331.67 186.11L334.07 188.51M331.67 188.51L334.07 186.11" class="mp"/>
<path d="M344.45 194.93H347.55M346 193.38V196.48" class="mb"/>
<path d="M344.45 192.33H347.55M346 190.78V193.88" class="mb"/>
<path d="M344.45 190.47H347.55M346 188.92V192.02" class="mb"/>
<path d="M344.45 188.8H347.55M346 187.25V190.35" class="mb"/>
<path d="M348.25 189.92L350.65 192.32M348.25 192.32L350.65 189.92" class="mp"/>
<path d="M348.25 188.53L350.65 190.93M348.25 190.93L350.65 188.53" class="mp"/>
<path d="M361.03 194.6H364.13M362.58 193.05V196.15" class="mb"/>
<path d="M361.03 192.33H364.13M362.58 190.78V193.88" class="mb"/>
<path d="M361.03 190.05H364.13M362.58 188.5V191.6" class="mb"/>
<path d="M361.03 187.78H364.13M362.58 186.23V189.33" class="mb"/>
<path d="M361.03 185.5H364.13M362.58 183.95V187.05" class="mb"/>
<path d="M364.83 192.06L367.23 194.45M364.83 194.45L367.23 192.06" class="mp"/>
<path d="M364.83 190.71L367.23 193.11M364.83 193.11L367.23 190.71" class="mp"/>
<path d="M364.83 187.04L367.23 189.44M364.83 189.44L367.23 187.04" class="mp"/>
<path d="M364.83 160.94L367.23 163.34M364.83 163.34L367.23 160.94" class="mp"/>
<path d="M377.62 192.6H380.72M379.17 191.05V194.15" class="mb"/>
<path d="M377.62 190.56H380.72M379.17 189.01V192.11" class="mb"/>
<path d="M377.62 188.52H380.72M379.17 186.97V190.07" class="mb"/>
<path d="M381.42 187.6L383.82 190M381.42 190L383.82 187.6" class="mp"/>
<path d="M381.42 183L383.82 185.4M381.42 185.4L383.82 183" class="mp"/>
<path d="M381.42 181.21L383.82 183.61M381.42 183.61L383.82 181.21" class="mp"/>
<path d="M381.42 179.42L383.82 181.82M381.42 181.82L383.82 179.42" class="mp"/>
<rect x="298.1" y="130.1" width="99.5" height="74.3" class="box"/>
<text x="296" y="207.3" class="tl" text-anchor="end" textLength="6.7" lengthAdjust="spacingAndGlyphs">40</text>
<text x="296" y="188.72" class="tl" text-anchor="end" textLength="6.7" lengthAdjust="spacingAndGlyphs">80</text>
<text x="296" y="170.15" class="tl" text-anchor="end" textLength="10" lengthAdjust="spacingAndGlyphs">120</text>
<text x="296" y="151.57" class="tl" text-anchor="end" textLength="10" lengthAdjust="spacingAndGlyphs">160</text>
<text x="296" y="133" class="tl" text-anchor="end" textLength="10" lengthAdjust="spacingAndGlyphs">200</text>
<text x="314.68" y="212.8" class="tl" text-anchor="middle" textLength="9.9" lengthAdjust="spacingAndGlyphs">100</text>
<text x="331.27" y="212.8" class="tl" text-anchor="middle" textLength="9.9" lengthAdjust="spacingAndGlyphs">200</text>
<text x="347.85" y="212.8" class="tl" text-anchor="middle" textLength="9.9" lengthAdjust="spacingAndGlyphs">300</text>
<text x="364.43" y="212.8" class="tl" text-anchor="middle" textLength="9.9" lengthAdjust="spacingAndGlyphs">400</text>
<text x="381.02" y="212.8" class="tl" text-anchor="middle" textLength="9.9" lengthAdjust="spacingAndGlyphs">500</text>
<text x="347.9" y="221.6" class="xl" text-anchor="middle" textLength="60.9" lengthAdjust="spacing">Buffer Size (pixels)</text>
<text transform="translate(280 168.7) rotate(-90)" x="0" y="2.4" class="yl" text-anchor="middle" textLength="56.8" lengthAdjust="spacingAndGlyphs">Execution Time (s)</text>
<text x="342.9" y="237.6" class="cap" text-anchor="middle"><tspan font-weight="bold">(g)</tspan> T7</text>
<path d="M450.08 130.1V204.4M466.67 130.1V204.4M483.25 130.1V204.4M499.83 130.1V204.4M516.42 130.1V204.4M433.5 185.82H533M433.5 167.25H533M433.5 148.67H533" class="grid"/>
<path d="M450.08 130.1v1.1M450.08 204.4v-1.1M466.67 130.1v1.1M466.67 204.4v-1.1M483.25 130.1v1.1M483.25 204.4v-1.1M499.83 130.1v1.1M499.83 204.4v-1.1M516.42 130.1v1.1M516.42 204.4v-1.1M433.5 185.82h1.1M533 185.82h-1.1M433.5 167.25h1.1M533 167.25h-1.1M433.5 148.67h1.1M533 148.67h-1.1" class="tick"/>
<circle cx="441.48" cy="200.59" r="1.55" class="mo"/>
<circle cx="441.48" cy="198.47" r="1.55" class="mo"/>
<circle cx="441.48" cy="196.34" r="1.55" class="mo"/>
<circle cx="441.48" cy="194.22" r="1.55" class="mo"/>
<circle cx="441.48" cy="192.09" r="1.55" class="mo"/>
<circle cx="444.98" cy="201.15" r="1.55" class="mg"/>
<circle cx="444.98" cy="198.77" r="1.55" class="mg"/>
<circle cx="444.98" cy="196.39" r="1.55" class="mg"/>
<circle cx="444.98" cy="194.01" r="1.55" class="mg"/>
<circle cx="444.98" cy="191.63" r="1.55" class="mg"/>
<path d="M446.68 200.13H449.78M448.23 198.58V201.68" class="mb"/>
<path d="M446.68 197.76H449.78M448.23 196.21V199.31" class="mb"/>
<path d="M446.68 195.39H449.78M448.23 193.84V196.94" class="mb"/>
<path d="M450.48 200.32L452.88 202.72M450.48 202.72L452.88 200.32" class="mp"/>
<path d="M450.48 198.91L452.88 201.31M450.48 201.31L452.88 198.91" class="mp"/>
<path d="M450.48 197.5L452.88 199.9M450.48 199.9L452.88 197.5" class="mp"/>
<path d="M450.48 196.1L452.88 198.5M450.48 198.5L452.88 196.1" class="mp"/>
<path d="M463.27 199.15H466.37M464.82 197.6V200.7" class="mb"/>
<path d="M463.27 197.2H466.37M464.82 195.65V198.75" class="mb"/>
<path d="M463.27 194.93H466.37M464.82 193.38V196.48" class="mb"/>
<path d="M463.27 189.73H466.37M464.82 188.18V191.28" class="mb"/>
<path d="M467.07 195.63L469.47 198.03M467.07 198.03L469.47 195.63" class="mp"/>
<path d="M467.07 194.01L469.47 196.41M467.07 196.41L469.47 194.01" class="mp"/>
<path d="M467.07 192.38L469.47 194.78M467.07 194.78L469.47 192.38" class="mp"/>
<path d="M467.07 190.75L469.47 193.15M467.07 193.15L469.47 190.75" class="mp"/>
<path d="M467.07 189.13L469.47 191.53M467.07 191.53L469.47 189.13" class="mp"/>
<path d="M479.85 194.93H482.95M481.4 193.38V196.48" class="mb"/>
<path d="M479.85 189.73H482.95M481.4 188.18V191.28" class="mb"/>
<path d="M479.85 188.61H482.95M481.4 187.06V190.16" class="mb"/>
<path d="M479.85 187.4H482.95M481.4 185.85V188.95" class="mb"/>
<path d="M483.65 195.77L486.05 198.17M483.65 198.17L486.05 195.77" class="mp"/>
<path d="M483.65 191.03L486.05 193.43M483.65 193.43L486.05 191.03" class="mp"/>
<path d="M483.65 189.71L486.05 192.11M483.65 192.11L486.05 189.71" class="mp"/>
<path d="M483.65 188.39L486.05 190.79M483.65 190.79L486.05 188.39" class="mp"/>
<path d="M483.65 187.06L486.05 189.46M483.65 189.46L486.05 187.06" class="mp"/>
<path d="M483.65 185.74L486.05 188.14M483.65 188.14L486.05 185.74" class="mp"/>
<path d="M496.43 193.3H499.53M497.98 191.75V194.85" class="mb"/>
<path d="M496.43 188.52H499.53M497.98 186.97V190.07" class="mb"/>
<path d="M496.43 186.45H499.53M497.98 184.9V188" class="mb"/>
<path d="M496.43 184.39H499.53M497.98 182.84V185.94" class="mb"/>
<path d="M500.23 194.1L502.63 196.5M500.23 196.5L502.63 194.1" class="mp"/>
<path d="M500.23 188.39L502.63 190.79M500.23 190.79L502.63 188.39" class="mp"/>
<path d="M500.23 187.02L502.63 189.42M500.23 189.42L502.63 187.02" class="mp"/>
<path d="M500.23 185.66L502.63 188.06M500.23 188.06L502.63 185.66" class="mp"/>
<path d="M500.23 184.3L502.63 186.7M500.23 186.7L502.63 184.3" class="mp"/>
<path d="M500.23 160.94L502.63 163.34M500.23 163.34L502.63 160.94" class="mp"/>
<path d="M513.02 194.23H516.12M514.57 192.68V195.78" class="mb"/>
<path d="M513.02 190.52H516.12M514.57 188.97V192.07" class="mb"/>
<path d="M513.02 186.52H516.12M514.57 184.97V188.07" class="mb"/>
<path d="M516.82 185.32L519.22 187.72M516.82 187.72L519.22 185.32" class="mp"/>
<path d="M516.82 183.85L519.22 186.25M516.82 186.25L519.22 183.85" class="mp"/>
<path d="M516.82 182.37L519.22 184.77M516.82 184.77L519.22 182.37" class="mp"/>
<path d="M516.82 180.9L519.22 183.3M516.82 183.3L519.22 180.9" class="mp"/>
<path d="M516.82 179.42L519.22 181.82M516.82 181.82L519.22 179.42" class="mp"/>
<rect x="433.5" y="130.1" width="99.5" height="74.3" class="box"/>
<text x="431.4" y="207.3" class="tl" text-anchor="end" textLength="6.7" lengthAdjust="spacingAndGlyphs">40</text>
<text x="431.4" y="188.72" class="tl" text-anchor="end" textLength="6.7" lengthAdjust="spacingAndGlyphs">80</text>
<text x="431.4" y="170.15" class="tl" text-anchor="end" textLength="10" lengthAdjust="spacingAndGlyphs">120</text>
<text x="431.4" y="151.57" class="tl" text-anchor="end" textLength="10" lengthAdjust="spacingAndGlyphs">160</text>
<text x="431.4" y="133" class="tl" text-anchor="end" textLength="10" lengthAdjust="spacingAndGlyphs">200</text>
<text x="450.08" y="212.8" class="tl" text-anchor="middle" textLength="9.9" lengthAdjust="spacingAndGlyphs">100</text>
<text x="466.67" y="212.8" class="tl" text-anchor="middle" textLength="9.9" lengthAdjust="spacingAndGlyphs">200</text>
<text x="483.25" y="212.8" class="tl" text-anchor="middle" textLength="9.9" lengthAdjust="spacingAndGlyphs">300</text>
<text x="499.83" y="212.8" class="tl" text-anchor="middle" textLength="9.9" lengthAdjust="spacingAndGlyphs">400</text>
<text x="516.42" y="212.8" class="tl" text-anchor="middle" textLength="9.9" lengthAdjust="spacingAndGlyphs">500</text>
<text x="483.3" y="221.6" class="xl" text-anchor="middle" textLength="60.9" lengthAdjust="spacing">Buffer Size (pixels)</text>
<text transform="translate(415.4 168.7) rotate(-90)" x="0" y="2.4" class="yl" text-anchor="middle" textLength="56.8" lengthAdjust="spacingAndGlyphs">Execution Time (s)</text>
<text x="478.3" y="237.6" class="cap" text-anchor="middle"><tspan font-weight="bold">(h)</tspan> T8</text>
<path d="M43.58 251.6V325.4M60.17 251.6V325.4M76.75 251.6V325.4M93.33 251.6V325.4M109.92 251.6V325.4M27 306.95H126.5M27 288.5H126.5M27 270.05H126.5" class="grid"/>
<path d="M43.58 251.6v1.1M43.58 325.4v-1.1M60.17 251.6v1.1M60.17 325.4v-1.1M76.75 251.6v1.1M76.75 325.4v-1.1M93.33 251.6v1.1M93.33 325.4v-1.1M109.92 251.6v1.1M109.92 325.4v-1.1M27 306.95h1.1M126.5 306.95h-1.1M27 288.5h1.1M126.5 288.5h-1.1M27 270.05h1.1M126.5 270.05h-1.1" class="tick"/>
<circle cx="34.88" cy="321.2" r="1.55" class="mo"/>
<circle cx="34.88" cy="317.79" r="1.55" class="mo"/>
<circle cx="34.88" cy="313.59" r="1.55" class="mo"/>
<circle cx="38.48" cy="324.48" r="1.55" class="mg"/>
<circle cx="38.48" cy="321.99" r="1.55" class="mg"/>
<circle cx="38.48" cy="319.5" r="1.55" class="mg"/>
<circle cx="38.48" cy="317.01" r="1.55" class="mg"/>
<circle cx="38.48" cy="314.51" r="1.55" class="mg"/>
<path d="M40.18 322.63H43.28M41.73 321.08V324.18" class="mb"/>
<path d="M40.18 320.56H43.28M41.73 319.01V322.11" class="mb"/>
<path d="M40.18 318.48H43.28M41.73 316.93V320.03" class="mb"/>
<path d="M40.18 316.41H43.28M41.73 314.86V317.96" class="mb"/>
<path d="M43.98 322.31L46.38 324.71M43.98 324.71L46.38 322.31" class="mp"/>
<path d="M43.98 320.7L46.38 323.1M43.98 323.1L46.38 320.7" class="mp"/>
<path d="M43.98 319.1L46.38 321.5M43.98 321.5L46.38 319.1" class="mp"/>
<path d="M43.98 317.49L46.38 319.89M43.98 319.89L46.38 317.49" class="mp"/>
<path d="M43.98 315.89L46.38 318.29M43.98 318.29L46.38 315.89" class="mp"/>
<path d="M43.98 314.28L46.38 316.68M43.98 316.68L46.38 314.28" class="mp"/>
<path d="M56.77 321.57H59.87M58.32 320.02V323.12" class="mb"/>
<path d="M56.77 316.91H59.87M58.32 315.36V318.46" class="mb"/>
<path d="M56.77 312.21H59.87M58.32 310.66V313.76" class="mb"/>
<path d="M60.57 319.5L62.97 321.9M60.57 321.9L62.97 319.5" class="mp"/>
<path d="M60.57 318.07L62.97 320.47M60.57 320.47L62.97 318.07" class="mp"/>
<path d="M60.57 316.65L62.97 319.05M60.57 319.05L62.97 316.65" class="mp"/>
<path d="M60.57 315.23L62.97 317.63M60.57 317.63L62.97 315.23" class="mp"/>
<path d="M60.57 313.81L62.97 316.21M60.57 316.21L62.97 313.81" class="mp"/>
<path d="M60.57 312.39L62.97 314.79M60.57 314.79L62.97 312.39" class="mp"/>
<path d="M73.35 316.41H76.45M74.9 314.86V317.96" class="mb"/>
<path d="M73.35 315.02H76.45M74.9 313.47V316.57" class="mb"/>
<path d="M73.35 313.59H76.45M74.9 312.04V315.14" class="mb"/>
<path d="M73.35 307.87H76.45M74.9 306.32V309.42" class="mb"/>
<path d="M77.15 316.59L79.55 318.99M77.15 318.99L79.55 316.59" class="mp"/>
<path d="M77.15 314.99L79.55 317.39M77.15 317.39L79.55 314.99" class="mp"/>
<path d="M77.15 313.4L79.55 315.8M77.15 315.8L79.55 313.4" class="mp"/>
<path d="M77.15 311.8L79.55 314.2M77.15 314.2L79.55 311.8" class="mp"/>
<path d="M77.15 310.21L79.55 312.61M77.15 312.61L79.55 310.21" class="mp"/>
<path d="M77.15 308.61L79.55 311.01M77.15 311.01L79.55 308.61" class="mp"/>
<path d="M89.93 315.11H93.03M91.48 313.56V316.66" class="mb"/>
<path d="M89.93 309.99H93.03M91.48 308.44V311.54" class="mb"/>
<path d="M89.93 307.87H93.03M91.48 306.32V309.42" class="mb"/>
<path d="M93.73 311.79L96.13 314.19M93.73 314.19L96.13 311.79" class="mp"/>
<path d="M93.73 310.09L96.13 312.49M93.73 312.49L96.13 310.09" class="mp"/>
<path d="M93.73 305.38L96.13 307.78M93.73 307.78L96.13 305.38" class="mp"/>
<path d="M93.73 303.58L96.13 305.98M93.73 305.98L96.13 303.58" class="mp"/>
<path d="M93.73 292.19L96.13 294.59M93.73 294.59L96.13 292.19" class="mp"/>
<path d="M106.52 315.11H109.62M108.07 313.56V316.66" class="mb"/>
<path d="M106.52 312.85H109.62M108.07 311.3V314.4" class="mb"/>
<path d="M106.52 310.59H109.62M108.07 309.04V312.14" class="mb"/>
<path d="M110.32 309.39L112.72 311.79M110.32 311.79L112.72 309.39" class="mp"/>
<path d="M110.32 305.38L112.72 307.78M110.32 307.78L112.72 305.38" class="mp"/>
<path d="M110.32 296.29L112.72 298.69M110.32 298.69L112.72 296.29" class="mp"/>
<path d="M110.32 286.01L112.72 288.41M110.32 288.41L112.72 286.01" class="mp"/>
<path d="M110.32 281.58L112.72 283.98M110.32 283.98L112.72 281.58" class="mp"/>
<rect x="27" y="251.6" width="99.5" height="73.8" class="box"/>
<text x="24.9" y="328.3" class="tl" text-anchor="end" textLength="6.7" lengthAdjust="spacingAndGlyphs">40</text>
<text x="24.9" y="309.85" class="tl" text-anchor="end" textLength="6.7" lengthAdjust="spacingAndGlyphs">80</text>
<text x="24.9" y="291.4" class="tl" text-anchor="end" textLength="10" lengthAdjust="spacingAndGlyphs">120</text>
<text x="24.9" y="272.95" class="tl" text-anchor="end" textLength="10" lengthAdjust="spacingAndGlyphs">160</text>
<text x="24.9" y="254.5" class="tl" text-anchor="end" textLength="10" lengthAdjust="spacingAndGlyphs">200</text>
<text x="43.58" y="334.3" class="tl" text-anchor="middle" textLength="9.9" lengthAdjust="spacingAndGlyphs">100</text>
<text x="60.17" y="334.3" class="tl" text-anchor="middle" textLength="9.9" lengthAdjust="spacingAndGlyphs">200</text>
<text x="76.75" y="334.3" class="tl" text-anchor="middle" textLength="9.9" lengthAdjust="spacingAndGlyphs">300</text>
<text x="93.33" y="334.3" class="tl" text-anchor="middle" textLength="9.9" lengthAdjust="spacingAndGlyphs">400</text>
<text x="109.92" y="334.3" class="tl" text-anchor="middle" textLength="9.9" lengthAdjust="spacingAndGlyphs">500</text>
<text x="76.8" y="343.1" class="xl" text-anchor="middle" textLength="60.9" lengthAdjust="spacing">Buffer Size (pixels)</text>
<text transform="translate(8.9 290.2) rotate(-90)" x="0" y="2.4" class="yl" text-anchor="middle" textLength="56.8" lengthAdjust="spacingAndGlyphs">Execution Time (s)</text>
<text x="71.8" y="359.1" class="cap" text-anchor="middle"><tspan font-weight="bold">(i)</tspan> T9</text>
<path d="M179.18 251.6V325.4M195.77 251.6V325.4M212.35 251.6V325.4M228.93 251.6V325.4M245.52 251.6V325.4M162.6 306.95H262.1M162.6 288.5H262.1M162.6 270.05H262.1" class="grid"/>
<path d="M179.18 251.6v1.1M179.18 325.4v-1.1M195.77 251.6v1.1M195.77 325.4v-1.1M212.35 251.6v1.1M212.35 325.4v-1.1M228.93 251.6v1.1M228.93 325.4v-1.1M245.52 251.6v1.1M245.52 325.4v-1.1M162.6 306.95h1.1M262.1 306.95h-1.1M162.6 288.5h1.1M262.1 288.5h-1.1M162.6 270.05h1.1M262.1 270.05h-1.1" class="tick"/>
<path d="M175.78 322.63H178.88M177.33 321.08V324.18" class="mb"/>
<path d="M175.78 320.19H178.88M177.33 318.64V321.74" class="mb"/>
<path d="M175.78 317.79H178.88M177.33 316.24V319.34" class="mb"/>
<path d="M175.78 314.98H178.88M177.33 313.43V316.53" class="mb"/>
<path d="M179.58 317.1L181.98 319.5M179.58 319.5L181.98 317.1" class="mp"/>
<path d="M179.58 315.69L181.98 318.09M179.58 318.09L181.98 315.69" class="mp"/>
<path d="M179.58 314.28L181.98 316.68M179.58 316.68L181.98 314.28" class="mp"/>
<circle cx="187.17" cy="322.08" r="1.55" class="mo"/>
<circle cx="187.17" cy="320.7" r="1.55" class="mo"/>
<circle cx="187.17" cy="314.33" r="1.55" class="mo"/>
<circle cx="190.27" cy="316.91" r="1.55" class="mg"/>
<circle cx="190.27" cy="314.1" r="1.55" class="mg"/>
<circle cx="190.27" cy="311.29" r="1.55" class="mg"/>
<path d="M192.37 321.66H195.47M193.92 320.11V323.21" class="mb"/>
<path d="M192.37 312.72H195.47M193.92 311.17V314.27" class="mb"/>
<path d="M196.17 318.57L198.57 320.97M196.17 320.97L198.57 318.57" class="mp"/>
<path d="M196.17 317.31L198.57 319.71M196.17 319.71L198.57 317.31" class="mp"/>
<path d="M196.17 316.05L198.57 318.45M196.17 318.45L198.57 316.05" class="mp"/>
<path d="M196.17 314.79L198.57 317.19M196.17 317.19L198.57 314.79" class="mp"/>
<path d="M196.17 311.52L198.57 313.92M196.17 313.92L198.57 311.52" class="mp"/>
<path d="M208.95 315.99H212.05M210.5 314.44V317.54" class="mb"/>
<path d="M208.95 314.61H212.05M210.5 313.06V316.16" class="mb"/>
<path d="M208.95 313.18H212.05M210.5 311.63V314.73" class="mb"/>
<path d="M208.95 309.39H212.05M210.5 307.84V310.94" class="mb"/>
<path d="M212.75 317.7L215.15 320.1M212.75 320.1L215.15 317.7" class="mp"/>
<path d="M212.75 316.27L215.15 318.67M212.75 318.67L215.15 316.27" class="mp"/>
<path d="M212.75 314.84L215.15 317.24M212.75 317.24L215.15 314.84" class="mp"/>
<path d="M212.75 313.41L215.15 315.81M212.75 315.81L215.15 313.41" class="mp"/>
<path d="M212.75 310.59L215.15 312.99M212.75 312.99L215.15 310.59" class="mp"/>
<path d="M212.75 308.93L215.15 311.33M212.75 311.33L215.15 308.93" class="mp"/>
<path d="M212.75 307.27L215.15 309.67M212.75 309.67L215.15 307.27" class="mp"/>
<path d="M225.53 317.79H228.63M227.08 316.24V319.34" class="mb"/>
<path d="M225.53 315.11H228.63M227.08 313.56V316.66" class="mb"/>
<path d="M225.53 312.02H228.63M227.08 310.47V313.57" class="mb"/>
<path d="M225.53 308.33H228.63M227.08 306.78V309.88" class="mb"/>
<path d="M229.33 311.52L231.73 313.92M229.33 313.92L231.73 311.52" class="mp"/>
<path d="M229.33 307.69L231.73 310.09M229.33 310.09L231.73 307.69" class="mp"/>
<path d="M229.33 305.84L231.73 308.24M229.33 308.24L231.73 305.84" class="mp"/>
<path d="M229.33 304L231.73 306.4M229.33 306.4L231.73 304" class="mp"/>
<path d="M242.12 312.35H245.22M243.67 310.8V313.9" class="mb"/>
<path d="M242.12 306.58H245.22M243.67 305.03V308.13" class="mb"/>
<path d="M245.92 311.52L248.32 313.92M245.92 313.92L248.32 311.52" class="mp"/>
<path d="M245.92 307.69L248.32 310.09M245.92 310.09L248.32 307.69" class="mp"/>
<path d="M245.92 306.3L248.32 308.7M245.92 308.7L248.32 306.3" class="mp"/>
<path d="M245.92 302.29L248.32 304.69M245.92 304.69L248.32 302.29" class="mp"/>
<path d="M245.92 280.61L248.32 283.01M245.92 283.01L248.32 280.61" class="mp"/>
<rect x="162.6" y="251.6" width="99.5" height="73.8" class="box"/>
<text x="160.5" y="328.3" class="tl" text-anchor="end" textLength="6.7" lengthAdjust="spacingAndGlyphs">40</text>
<text x="160.5" y="309.85" class="tl" text-anchor="end" textLength="6.7" lengthAdjust="spacingAndGlyphs">80</text>
<text x="160.5" y="291.4" class="tl" text-anchor="end" textLength="10" lengthAdjust="spacingAndGlyphs">120</text>
<text x="160.5" y="272.95" class="tl" text-anchor="end" textLength="10" lengthAdjust="spacingAndGlyphs">160</text>
<text x="160.5" y="254.5" class="tl" text-anchor="end" textLength="10" lengthAdjust="spacingAndGlyphs">200</text>
<text x="179.18" y="334.3" class="tl" text-anchor="middle" textLength="9.9" lengthAdjust="spacingAndGlyphs">100</text>
<text x="195.77" y="334.3" class="tl" text-anchor="middle" textLength="9.9" lengthAdjust="spacingAndGlyphs">200</text>
<text x="212.35" y="334.3" class="tl" text-anchor="middle" textLength="9.9" lengthAdjust="spacingAndGlyphs">300</text>
<text x="228.93" y="334.3" class="tl" text-anchor="middle" textLength="9.9" lengthAdjust="spacingAndGlyphs">400</text>
<text x="245.52" y="334.3" class="tl" text-anchor="middle" textLength="9.9" lengthAdjust="spacingAndGlyphs">500</text>
<text x="212.4" y="343.1" class="xl" text-anchor="middle" textLength="60.9" lengthAdjust="spacing">Buffer Size (pixels)</text>
<text transform="translate(144.5 290.2) rotate(-90)" x="0" y="2.4" class="yl" text-anchor="middle" textLength="56.8" lengthAdjust="spacingAndGlyphs">Execution Time (s)</text>
<text x="207.4" y="359.1" class="cap" text-anchor="middle"><tspan font-weight="bold">(j)</tspan> T10</text>
<rect x="4.7" y="365.6" width="542.4" height="13.8" class="lbox"/>
<path d="M9.9 372.3H15.1M12.5 369.7V374.9" stroke="#1782C4" stroke-width="1" fill="none"/>
<text x="19.8" y="375.3" class="lg" textLength="115.1" lengthAdjust="spacingAndGlyphs">series assess with 1 band</text>
<path d="M143.5 370.5L147.3 374.3M143.5 374.3L147.3 370.5" stroke="#7E2F8E" stroke-width="1" fill="none"/>
<text x="152.6" y="375.3" class="lg" textLength="120.6" lengthAdjust="spacingAndGlyphs">series assess with 3 bands</text>
<path d="M280.00 372.30H284.60M282.30 370.00V374.60M280.67 370.67L283.93 373.93M280.67 373.93L283.93 370.67" stroke="#DC5016" stroke-width="1" fill="none"/>
<text x="289.5" y="375.3" class="lg" textLength="116.8" lengthAdjust="spacingAndGlyphs">our strategy with 1 band</text>
<path d="M413.30 372.30H417.90M415.60 370.00V374.60M413.97 370.67L417.23 373.93M413.97 373.93L417.23 370.67" stroke="#6AA226" stroke-width="1" fill="none"/>
<text x="423.2" y="375.3" class="lg" textLength="120.8" lengthAdjust="spacingAndGlyphs">our strategy with 3 bands</text>
</svg>
</body></html>
